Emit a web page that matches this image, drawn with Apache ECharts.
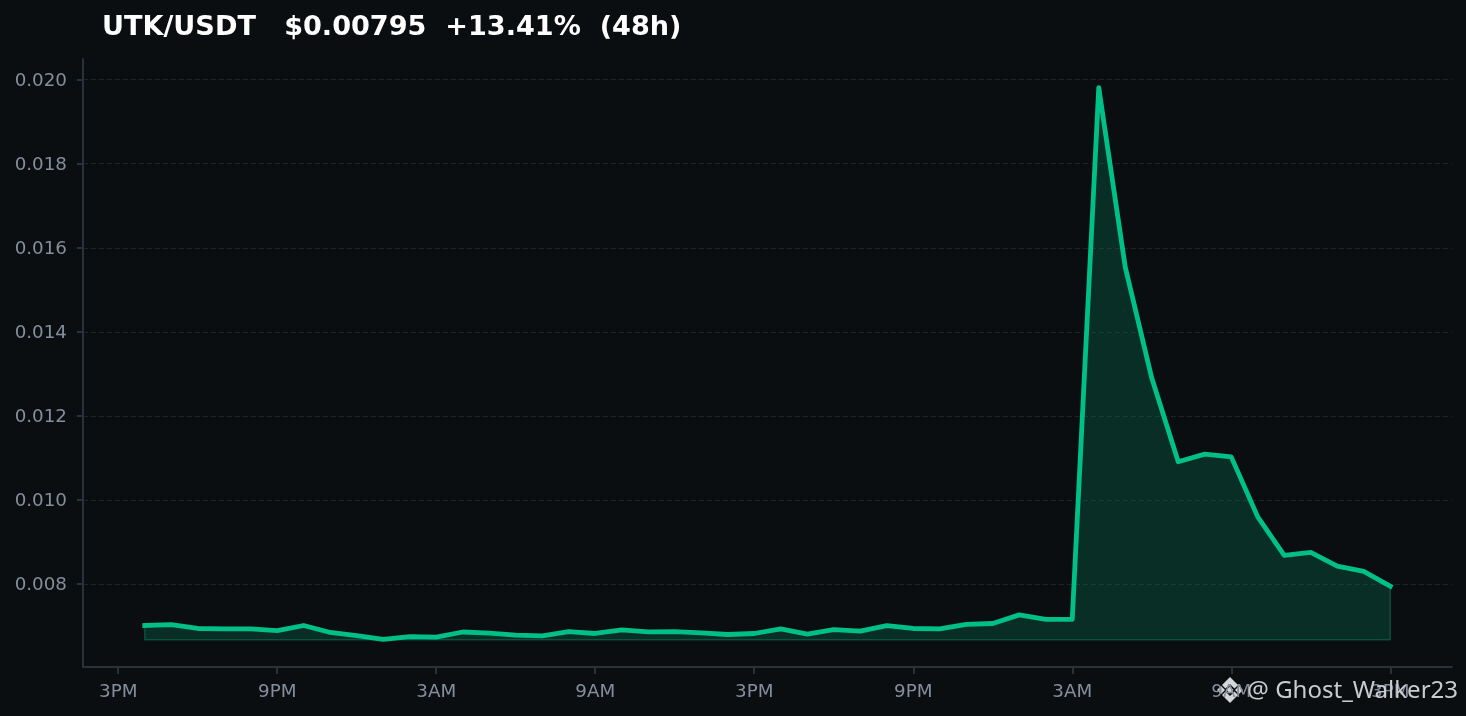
<!DOCTYPE html>
<html><head><meta charset="utf-8">
<style>html,body{margin:0;padding:0;background:#0b0e11}#c{width:1466px;height:716px}</style>
<script src="https://cdn.jsdelivr.net/npm/echarts@6/dist/echarts.min.js"></script>
</head><body><div id="c"></div>
<script>
const titleText = 'UTK/USDT   $0.00795  +13.41%  (48h)';
const watermark = '@ Ghost_Walker23';
const hours = [1,2,3,4,5,6,7,8,9,10,11,12,13,14,15,16,17,18,19,20,21,22,23,24,25,26,27,28,29,30,31,32,33,34,35,36,37,38,39,40,41,42,43,44,45,46,47,48];
const prices = [0.007018,0.007037,0.006946,0.006937,0.006937,0.006894,0.007017,0.006851,0.006775,0.006685,0.006751,0.006739,0.006862,0.006834,0.006787,0.00677,0.006869,0.006827,0.006912,0.006865,0.006872,0.006841,0.006803,0.006827,0.006939,0.00681,0.006919,0.006885,0.007015,0.006946,0.006937,0.007046,0.007065,0.007269,0.007161,0.007161,0.01981,0.015541,0.012901,0.01091,0.011093,0.011028,0.009601,0.008683,0.008754,0.008428,0.008302,0.00795];
const baseline = 0.00668;
const xTickHours = [0,6,12,18,24,30,36,42,48];
const xTickLabels = ['3PM','9PM','3AM','9AM','3PM','9PM','3AM','9AM','3PM'];
const yTicks = [0.008,0.010,0.012,0.014,0.016,0.018,0.020];

const chart = echarts.init(document.getElementById('c'), null, {renderer:'canvas'});
const seriesData = hours.map((h,i)=>[h,prices[i]]);
const first = hours[0], last = hours[hours.length-1];
const edge = [[first,prices[0]],[first,baseline],[last,baseline],[last,prices[prices.length-1]]];
const iconFill = '#d6d7d9';
chart.setOption({
  animation:false,
  backgroundColor:'#0b0e11',
  title:{text:titleText,left:102,top:14,padding:0,textStyle:{color:'#ffffff',fontFamily:'DejaVu Sans',fontWeight:'bold',fontSize:27.1}},
  grid:{left:83,right:14,top:59,bottom:49,containLabel:false},
  xAxis:{type:'value',min:-1.33,max:50.33,
    axisLine:{show:true,onZero:false,lineStyle:{color:'#2b3139',width:2}},
    axisTick:{show:true,length:7,customValues:xTickHours,lineStyle:{color:'#2b3139',width:2}},
    axisLabel:{customValues:xTickHours,margin:16,color:'#848e9c',fontFamily:'DejaVu Sans',fontSize:18.3,
      formatter:v=>xTickLabels[xTickHours.indexOf(v)]||''},
    splitLine:{show:false}},
  yAxis:{type:'value',min:0.00603,max:0.02049,
    axisLine:{show:true,onZero:false,lineStyle:{color:'#2b3139',width:2}},
    axisTick:{show:true,length:6,customValues:yTicks,lineStyle:{color:'#2b3139',width:2}},
    axisLabel:{customValues:yTicks,margin:16,color:'#848e9c',fontFamily:'DejaVu Sans',fontSize:18.3,verticalAlign:'top',lineHeight:3,
      formatter:v=>v.toFixed(3)},
    splitLine:{show:true,lineStyle:{color:'#1e2329',width:1,type:[5,3]}}},
  series:[
    {type:'line',data:seriesData,showSymbol:false,symbol:'none',z:3,
      lineStyle:{color:'#00c087',width:4.8,cap:'square',join:'round'},
      areaStyle:{color:'#00c48c',opacity:0.18,origin:baseline}},
    {type:'line',data:edge,showSymbol:false,symbol:'none',z:2,silent:true,
      lineStyle:{color:'#0c4236',width:1.5}}
  ],
  graphic:[
    {type:'text',right:8,top:679,z:100,style:{text:watermark,fill:'#c9cbce',font:'24px "Noto Sans"'}},
    {type:'group',left:1217,top:677,z:100,children:[
      {type:'polygon',shape:{points:[[13,0],[21,8],[17.5,11.5],[13,7],[8.5,11.5],[5,8]]},style:{fill:iconFill}},
      {type:'polygon',shape:{points:[[13,26],[21,18],[17.5,14.5],[13,19],[8.5,14.5],[5,18]]},style:{fill:iconFill}},
      {type:'polygon',shape:{points:[[0,13],[4,9],[8,13],[4,17]]},style:{fill:iconFill}},
      {type:'polygon',shape:{points:[[26,13],[22,9],[18,13],[22,17]]},style:{fill:iconFill}},
      {type:'polygon',shape:{points:[[13,9.5],[16.5,13],[13,16.5],[9.5,13]]},style:{fill:iconFill}}
    ]}
  ]
});
</script></body></html>
